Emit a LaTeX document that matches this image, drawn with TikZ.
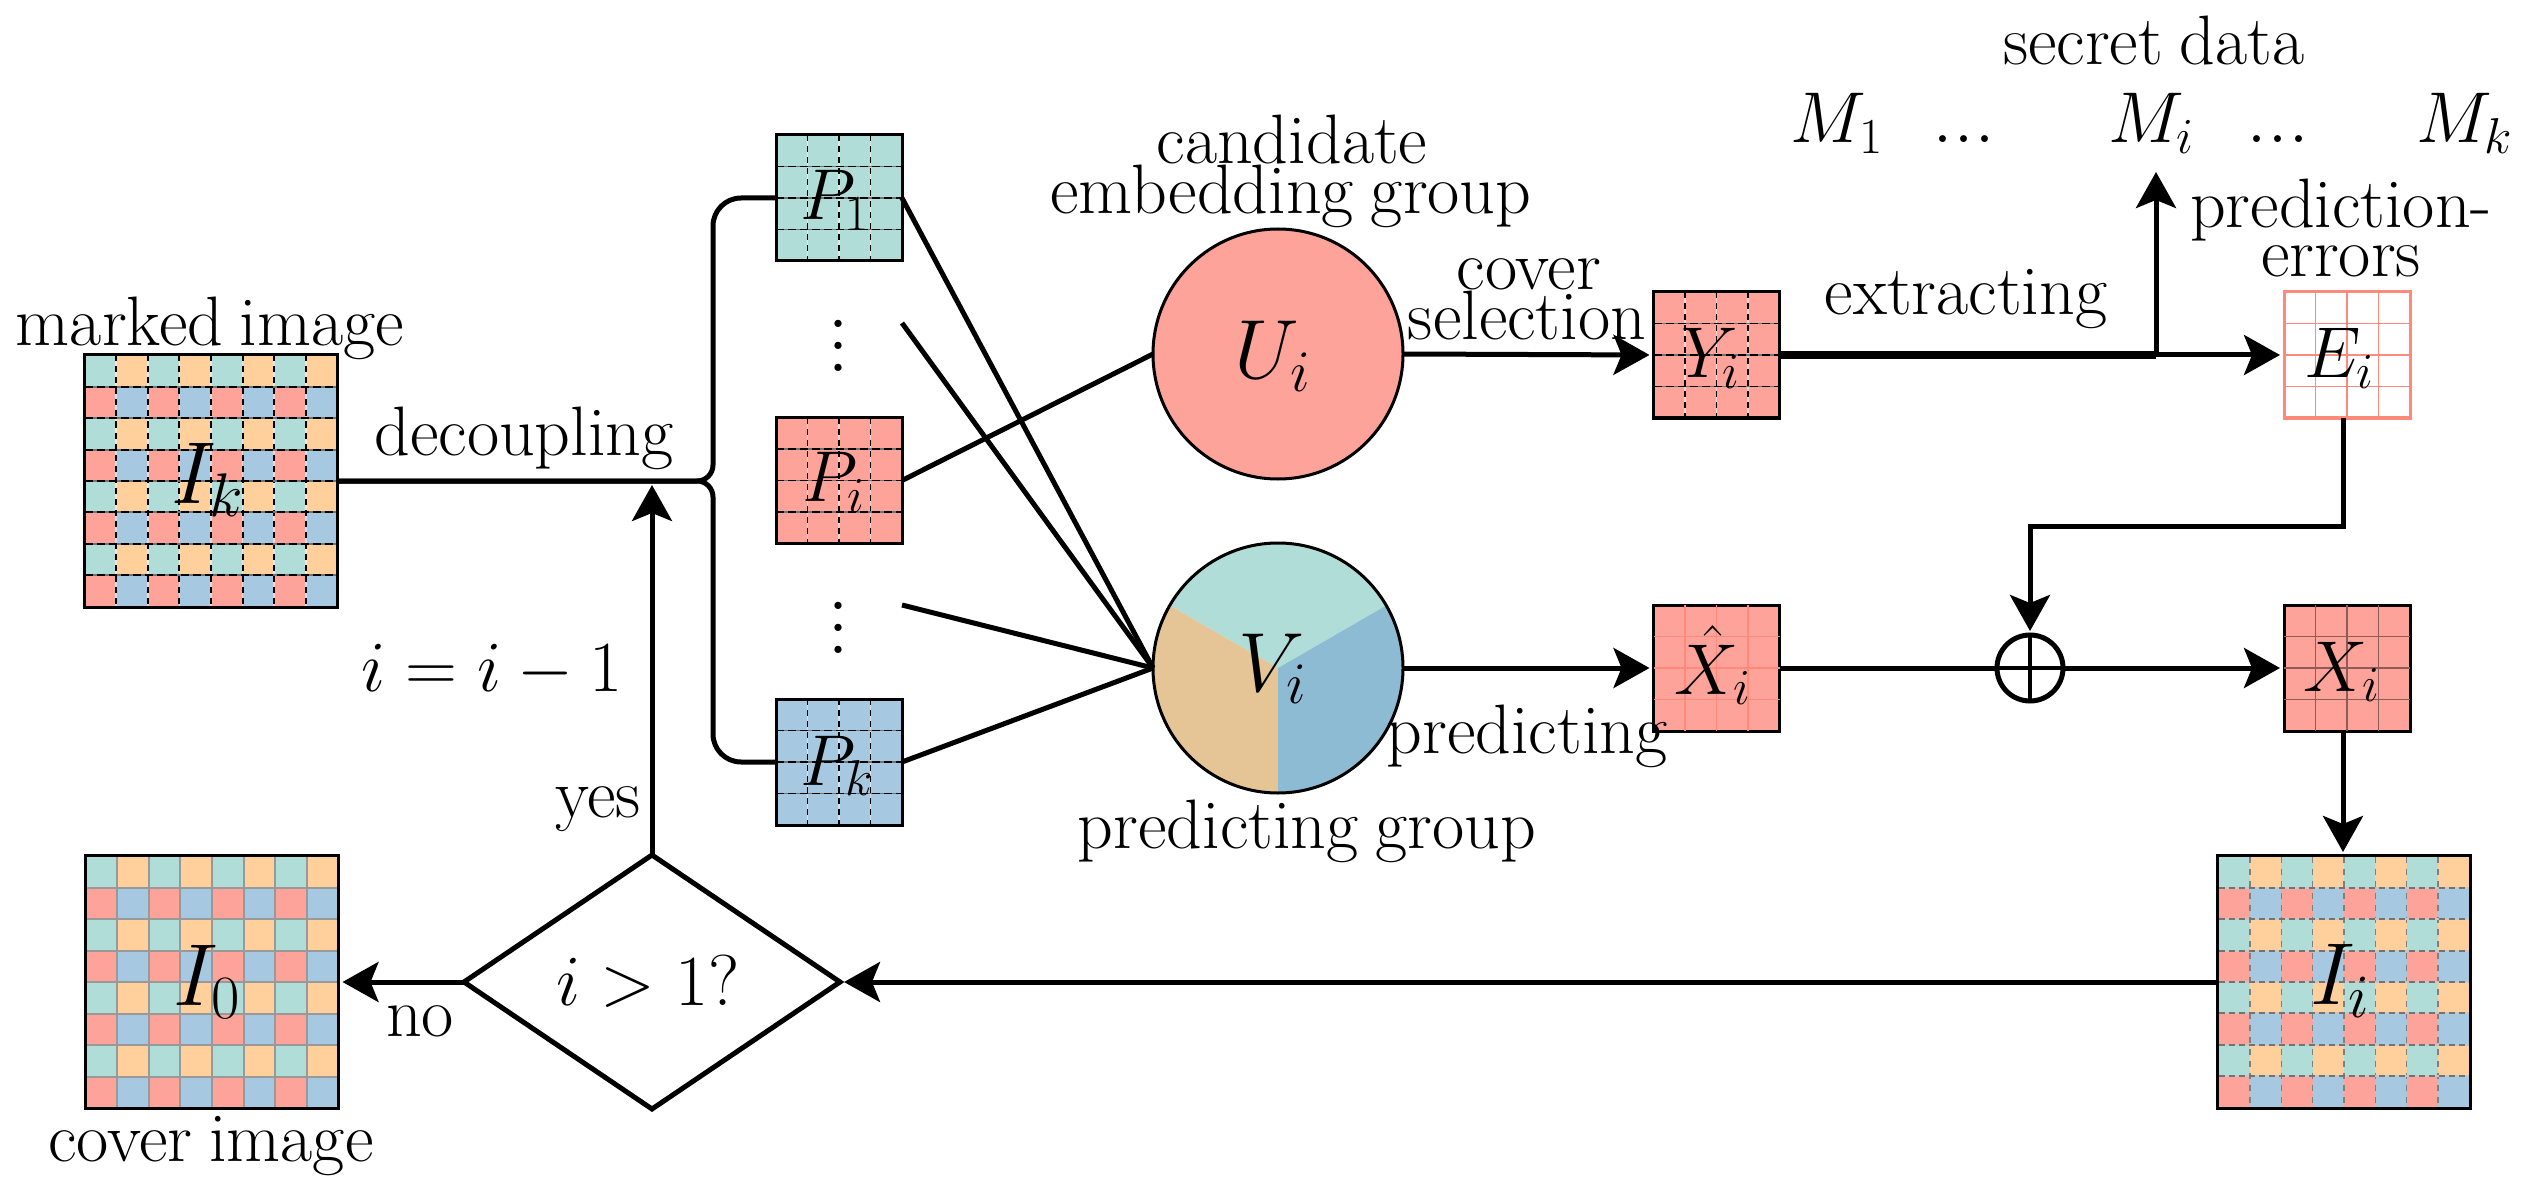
\RequirePackage{fix-cm}
\documentclass[tikz,border=0pt]{standalone}
\usetikzlibrary{arrows.meta,shapes.geometric,calc}
\definecolor{cteal}{HTML}{B0DDD8}
\definecolor{corange}{HTML}{FFD09B}
\definecolor{csalmon}{HTML}{FDA39A}
\definecolor{cblue}{HTML}{A6C8E0}
\definecolor{ctan}{HTML}{E5C595}
\definecolor{cpieblue}{HTML}{8CBBD3}
\definecolor{cline}{HTML}{FF8A7C}
\newcommand{\tightwords}{\spaceskip=8.4pt\relax}
\tikzset{
  conn/.style={line width=2.5pt,draw=black},
  arrowed/.style={conn,-{Stealth[length=18pt,width=20pt,inset=4pt]},shorten >=2pt},
  imgbox/.style={rectangle,draw=black,line width=1.5pt,inset sep,minimum width=126.5pt,minimum height=126.5pt},
  inset sep/.style={inner sep=0pt,outer sep=0pt},
  smallbox/.style={rectangle,draw=black,line width=1.5pt,inset sep,minimum width=63pt,minimum height=63pt},
  ball/.style={circle,draw=black,line width=1.5pt,inset sep,minimum size=125pt},
  txt/.style={anchor=base,inset sep,font=\fontsize{35}{39}\selectfont,execute at begin node=\tightwords},
  sym/.style={anchor=base,inset sep,font=\fontsize{36}{40}\selectfont},
  bigsym/.style={sym,font=\fontsize{44}{48}\selectfont},
  vdotstxt/.style={anchor=center,inset sep,font=\fontsize{44}{48}\selectfont},
  dotstxt/.style={anchor=base,inset sep,font=\fontsize{42}{46}\selectfont},
  hdash/.style={draw=black,line width=.9pt,dash pattern=on 4pt off 2pt,preaction={draw=black!55,line width=.9pt,solid}},
  vdash/.style={draw=black,line width=.9pt,dash pattern=on 3pt off 2.5pt,preaction={draw=white,opacity=.5,line width=.8pt,solid}},
  hfaint/.style={draw=black!55,line width=.9pt,dash pattern=on 3pt off 2pt,preaction={draw=black!22,line width=.9pt,solid}},
  vfaint/.style={draw=black!50,line width=.7pt,dash pattern=on 3pt off 3pt},
  gsolid/.style={draw=black!40,line width=1pt},
  rsolid/.style={draw=cline,line width=.9pt},
  msolid/.style={draw=black!30!csalmon!80!black,line width=.9pt},
}
\newcommand{\cellgrid}[6]{% cx cy w h n style
  \foreach \k in {1,...,\numexpr#5-1\relax}{
    \pgfmathsetmacro{\xx}{#1-#3/2+#3*\k/#5}
    \draw[#6] (\xx,#2-#4/2) -- (\xx,#2+#4/2);
  }
}
\newcommand{\rowgrid}[6]{%
  \foreach \k in {1,...,\numexpr#5-1\relax}{
    \pgfmathsetmacro{\yy}{#2-#4/2+#4*\k/#5}
    \draw[#6] (#1-#3/2,\yy) -- (#1+#3/2,\yy);
  }
}
\newcommand{\checks}[4]{% cx cy w h
  \foreach \r in {0,...,7}{\foreach \c in {0,...,7}{
    \pgfmathtruncatemacro{\oddr}{mod(\r,2)}
    \pgfmathtruncatemacro{\oddc}{mod(\c,2)}
    \pgfmathsetmacro{\xa}{#1-#3/2+#3*\c/8}
    \pgfmathsetmacro{\ya}{#2-#4/2+#4*\r/8}
    \ifnum\oddr=0\ifnum\oddc=0\def\cc{cteal}\else\def\cc{corange}\fi
    \else\ifnum\oddc=0\def\cc{csalmon}\else\def\cc{cblue}\fi\fi
    \fill[\cc] (\xa,\ya) rectangle ++(#3/8,#4/8);
  }}
}
\newcommand{\threedots}{\vbox{\baselineskip=11pt\lineskiplimit=-100pt\hbox{.}\hbox{.}\hbox{.}}}
\begin{document}
\begin{tikzpicture}[x=0.5pt,y=-0.5pt]
\useasboundingbox (0,0) rectangle (2529,1198);
% big images
\checks{211}{481}{253}{251}
\cellgrid{211}{481}{253}{251}{8}{vdash}
\rowgrid{211}{481}{253}{251}{8}{hdash}
\node[imgbox] (Ik) at (211,481) {};
\checks{212}{982}{253}{252}
\cellgrid{212}{982}{253}{252}{8}{gsolid}
\rowgrid{212}{982}{253}{252}{8}{gsolid}
\node[imgbox] (Izero) at (212,982) {};
\checks{2344}{982}{251}{251}
\cellgrid{2344}{982}{251}{251}{8}{vfaint}
\rowgrid{2344}{982}{251}{251}{8}{hfaint}
\node[imgbox] (Ii) at (2344,982) {};
% small boxes
\node[smallbox,fill=cteal] (Pone) at (839,198) {};
\cellgrid{839}{198}{126}{126}{4}{vdash}\rowgrid{839}{198}{126}{126}{4}{hdash}
\node[smallbox,fill=csalmon] (Pi) at (839,480.5) {};
\cellgrid{839}{480.5}{126}{126}{4}{vdash}\rowgrid{839}{480.5}{126}{126}{4}{hdash}
\node[smallbox,fill=cblue] (Pk) at (839,762) {};
\cellgrid{839}{762}{126}{126}{4}{vdash}\rowgrid{839}{762}{126}{126}{4}{hdash}
\node[smallbox,fill=csalmon] (Y) at (1716.5,355) {};
\cellgrid{1716.5}{355}{126}{126}{4}{vdash}\rowgrid{1716.5}{355}{126}{126}{4}{hdash}
\node[smallbox,draw=cline,fill=white] (E) at (2347,355) {};
\cellgrid{2347}{355}{126}{126}{4}{rsolid}\rowgrid{2347}{355}{126}{126}{4}{rsolid}
\node[smallbox,fill=csalmon] (Xh) at (1716.5,668) {};
\cellgrid{1716.5}{668}{126}{126}{4}{rsolid}\rowgrid{1716.5}{668}{126}{126}{4}{rsolid}
\node[smallbox,fill=csalmon] (X) at (2347,668) {};
\cellgrid{2347}{668}{126}{126}{4}{msolid}\rowgrid{2347}{668}{126}{126}{4}{msolid}
% circles
\node[ball,fill=csalmon] (U) at (1278,354) {};
\coordinate (Vc) at (1278,668);
\fill[cteal] (Vc) -- ++(30:62.5pt) arc[start angle=30,end angle=150,radius=62.5pt] -- cycle;
\fill[ctan] (Vc) -- ++(150:62.5pt) arc[start angle=150,end angle=270,radius=62.5pt] -- cycle;
\fill[cpieblue] (Vc) -- ++(270:62.5pt) arc[start angle=270,end angle=390,radius=62.5pt] -- cycle;
\node[ball] (V) at (Vc) {};
% diamond
\node[diamond,draw=black,line width=2.5pt,inset sep,aspect=1.48,minimum width=188pt,minimum height=127pt] (D) at (652,982) {};
% oplus
\node[circle,draw=black,line width=2.5pt,inset sep,minimum size=33pt] (O) at (2030,668) {};
\draw[conn,line width=2pt] (O.north) -- (O.south);
\draw[conn,line width=2pt] (O.west) -- (O.east);
% coordinates
\coordinate (bus) at (713,481);
\coordinate (branch) at (2156,355);
\coordinate (ftwo) at (902,323);
\coordinate (fthree) at (902,605);
\coordinate (Mtip) at (2156,168);
\coordinate (ecorner) at (2343,526);
\coordinate (Ebot) at (2343,418);
\coordinate (Xbot) at (2343,732);
\coordinate (Itop) at (2343,856);
% connectors
\draw[conn,rounded corners=8pt] (Ik.east) -- (bus) [rounded corners=14pt] -- (bus|-Pone) -- (Pone.west);
\draw[conn,rounded corners=8pt] (Ik.east) -- (bus) [rounded corners=14pt] -- (bus|-Pk) -- (Pk.west);
\draw[conn] (Pone.east) -- (V.west);
\draw[conn] (ftwo) -- (V.west);
\draw[conn] (fthree) -- (V.west);
\draw[conn] (Pk.east) -- (V.west);
\draw[conn] (Pi.east) -- (U.west);
\draw[arrowed] (U.east) -- (Y.west);
\draw[arrowed] (V.east) -- (Xh.west);
\draw[conn,line width=4pt] (Y.east) -- (branch);
\draw[arrowed] (branch) -- (E.west);
\draw[arrowed] (branch) -- (Mtip);
\draw[arrowed] (Ebot) -- (ecorner) -- (ecorner-|O) -- (O.north);
\draw[conn] (Xh.east) -- (O.west);
\draw[arrowed] (O.east) -- (X.west);
\draw[arrowed] (Xbot) -- (Itop);
\draw[arrowed] (Ii.west) -- (D.east);
\draw[arrowed] (D.west) -- (Izero.east);
\draw[arrowed] (D.north) -- (D.north|-Ik);
% text
\node[txt] (tmarked) at (210,346) {marked image};
\node[txt] (tdecoup) at (524,455) {decoupling};
\node[txt] (tcand) at (1292,164) {candidate};
\node[txt] (temb) at (1291,214) {embedding group};
\node[txt] (tcover) at (1529,290) {cover};
\node[txt] (tsel) at (1527,340) {selection};
\node[txt] (textr) at (1966,315) {extracting};
\node[txt] (tsecret) at (2154,65) {secret data};
\node[txt] (tpred) at (2341,228) {prediction-};
\node[txt] (terr) at (2341,277) {errors};
\node[txt] (tpring) at (1527,753) {predicting};
\node[txt] (tprgr) at (1307,848) {predicting group};
\node[txt] (tcovim) at (211,1161) {cover image};
\node[txt] (tyes) at (598,817) {yes};
\node[txt] (tno) at (420,1036) {no};
\node[dotstxt] (tdots1) at (1964,143) {...};
\node[dotstxt] (tdots2) at (2278,143) {...};
\node[sym] (tMone) at (1837,143) {$M_1$};
\node[sym] (tMi) at (2151,143) {$M_i$};
\node[sym] (tMk) at (2465,143) {$M_k$};
\node[bigsym] (tIk) at (208,503) {$I_k$};
\node[bigsym] (tIo) at (207,1005) {$I_0$};
\node[bigsym] (tIi) at (2340,1004) {$I_i$};
\node[sym] (tPo) at (835,220) {$P_1$};
\node[sym] (tPi) at (834,502) {$P_i$};
\node[sym] (tPk) at (837,785) {$P_k$};
\node[sym,font=\fontsize{42}{46}\selectfont] (tU) at (1273,379) {$U_i$};
\node[sym,font=\fontsize{42}{46}\selectfont] (tV) at (1273,691) {$V_i$};
\node[sym] (tY) at (1711,378) {$Y_i$};
\node[sym] (tE) at (2339,378) {$E_i$};
\node[sym] (tXh) at (1713,694) {$\hat{X}_i$};
\node[sym] (tX) at (2342,691) {$X_i$};
\node[sym] (teq) at (492,691) {$i=i-1$};
\node[sym] (tcond) at (648,1005) {$i>1?$};
\node[vdotstxt] (tvd1) at (838,346) {\threedots};
\node[vdotstxt] (tvd2) at (838,628) {\threedots};
\end{tikzpicture}
\end{document}
